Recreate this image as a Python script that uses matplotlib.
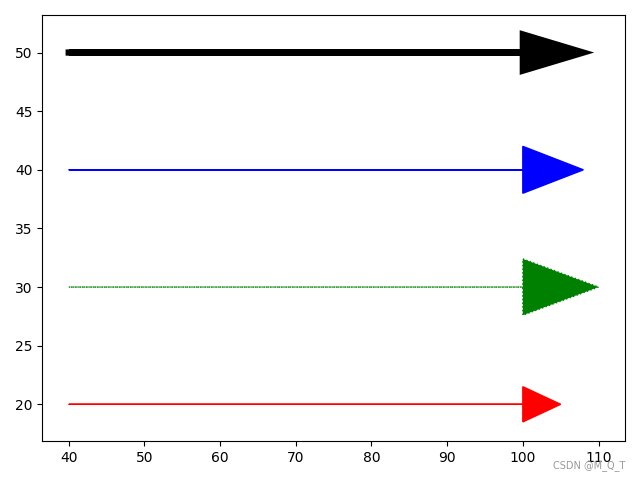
import matplotlib
matplotlib.use("Agg")
import matplotlib.pyplot as plt

x_start = [40, 40, 40, 40]
y_start = [20, 30, 40, 50]
dx = [60, 60, 60, 60]
head_widths = [3, 4.8, 4, 3.1]
head_lengths = [5, 10, 8, 8]
colors = ['red', 'green', 'blue', 'black']
linestyles = ['-', ':', '-', '-']
linewidths = [1, 1, 1, 4.5]

fig, ax = plt.subplots(figsize=(6.4, 4.8), dpi=100)
for x0, y0, d, hw, hl, c, ls, lw in zip(x_start, y_start, dx, head_widths,
                                         head_lengths, colors, linestyles, linewidths):
    ax.arrow(x0, y0, d, 0, head_width=hw, head_length=hl, color=c, ls=ls, lw=lw)
fig.tight_layout()
fig.text(0.977, 0.018, 'CSDN @M_Q_T', ha='right', va='bottom', fontsize=7, color='#999999')
fig.savefig('out.png')
